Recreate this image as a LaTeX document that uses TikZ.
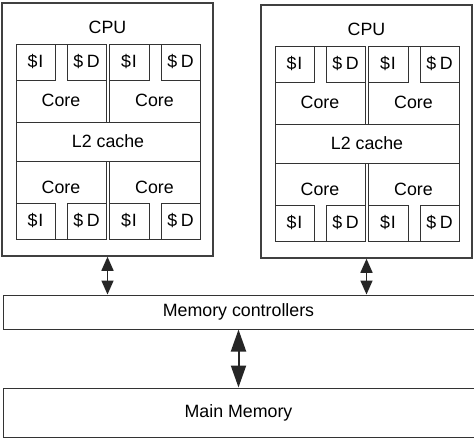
\documentclass[tikz,border=0pt]{standalone}
\usepackage{fontspec}
\setmainfont{Liberation Sans}
\usetikzlibrary{arrows.meta}
\tikzset{
  box/.style={draw=black!80, line width=1pt, inner sep=0pt, fill=white},
  outerbox/.style={draw=black!75, line width=1.5pt, inner sep=0pt},
  lbl/.style={inner sep=0pt, font=\fontsize{17.8}{20}\selectfont, text=black},
  cache/.style={box, font=\fontsize{17.8}{20}\selectfont, text=black},
  smallarr/.style={draw=black!85, line width=1.5pt, {Triangle[width=12pt,length=14pt]}-{Triangle[width=12pt,length=14pt]}},
  bigarr/.style={draw=black!85, line width=2pt, {Triangle[width=15pt,length=22pt]}-{Triangle[width=15pt,length=22pt]}}
}
\newcommand\cpublock[3]{%
\begin{scope}[shift={(#2,#3)}]
\node[outerbox, minimum width=211pt, minimum height=253pt] (#1cpu) at (107.5,129.5) {};
\node[lbl] (#1cpuT) at (107.5,27) {CPU};
\node[box, minimum width=90pt, minimum height=78pt] (#1coreA) at (61,83) {};
\node[box, minimum width=91pt, minimum height=78pt] (#1coreB) at (154.5,83) {};
\node[box, minimum width=90pt, minimum height=78pt] (#1coreC) at (61,200) {};
\node[box, minimum width=91pt, minimum height=78pt] (#1coreD) at (154.5,200) {};
\node[box, lbl, minimum width=184pt, minimum height=39pt] (#1L2) at (108,141.5) {L2 cache};
\node[cache, minimum width=39pt, minimum height=36pt] (#1iA) at (35.5,62) {\$\kern1pt I};
\node[cache, minimum width=39pt, minimum height=36pt] (#1dA) at (86.5,62) {\$\kern3.5pt D};
\node[cache, minimum width=40pt, minimum height=36pt] (#1iB) at (129,62) {\$\kern1pt I};
\node[cache, minimum width=39pt, minimum height=36pt] (#1dB) at (180.5,62) {\$\kern3.5pt D};
\node[cache, minimum width=39pt, minimum height=36pt] (#1iC) at (35.5,221) {\$\kern1pt I};
\node[cache, minimum width=39pt, minimum height=36pt] (#1dC) at (86.5,221) {\$\kern3.5pt D};
\node[cache, minimum width=40pt, minimum height=36pt] (#1iD) at (129,221) {\$\kern1pt I};
\node[cache, minimum width=39pt, minimum height=36pt] (#1dD) at (180.5,221) {\$\kern3.5pt D};
\node[lbl] (#1tA) at (61,100) {Core};
\node[lbl] (#1tB) at (154.5,100) {Core};
\node[lbl] (#1tC) at (61,187) {Core};
\node[lbl] (#1tD) at (154.5,187) {Core};
\end{scope}}
\begin{document}
\begin{tikzpicture}[x=1pt,y=-1pt]
\fill[white] (0,0) rectangle (474,439);
\useasboundingbox (0,0) rectangle (474,439);
\cpublock{L}{0}{0}
\cpublock{R}{259}{2}
\node[box, lbl, minimum width=471pt, minimum height=34pt] (mc) at (238.5,312) {Memory controllers};
\node[box, lbl, minimum width=471pt, minimum height=49pt] (mm) at (238.5,412.5) {Main Memory};
\draw[smallarr] (Lcpu.south) -- (Lcpu.south |- mc.north);
\draw[smallarr] (Rcpu.south) -- (Rcpu.south |- mc.north);
\draw[bigarr] (mc.south) -- (mm.north);
\end{tikzpicture}
\end{document}
